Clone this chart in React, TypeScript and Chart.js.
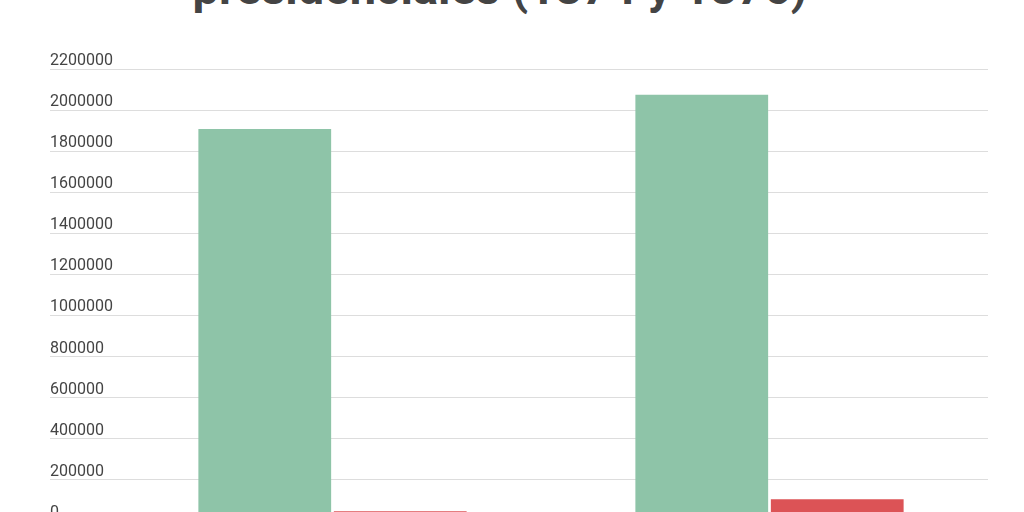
import React, { useEffect, useRef } from "react";
import { Chart, registerables } from "chart.js";

Chart.register(...registerables);

const titleText = "presidenciales (1874 y 1876)";
const categories = ["1874", "1876"];
const seriesNames = ["Serie A", "Serie B"];
const seriesA = [1908000, 2075000];
const seriesB = [46000, 105000];
const yMin = 0;
const yMax = 2200000;
const yStep = 200000;

const CANVAS_H = 575;

export default function App() {
  const ref = useRef<HTMLCanvasElement | null>(null);

  useEffect(() => {
    document.documentElement.style.overflow = "hidden";
    const ctx = ref.current;
    if (!ctx) return;
    const chart = new Chart(ctx, {
      type: "bar",
      data: {
        labels: categories,
        datasets: [
          {
            label: seriesNames[0],
            data: seriesA,
            backgroundColor: "#8ec4a8",
            categoryPercentage: 0.62,
            barPercentage: 0.98,
          },
          {
            label: seriesNames[1],
            data: seriesB,
            backgroundColor: "#dc5356",
            categoryPercentage: 0.62,
            barPercentage: 0.98,
          },
        ],
      },
      options: {
        responsive: false,
        animation: false,
        devicePixelRatio: 1,
        layout: { padding: { left: 50, right: 36, top: 69, bottom: 11 } },
        plugins: {
          legend: { display: false },
          tooltip: { enabled: false },
          title: { display: false },
        },
        scales: {
          x: {
            grid: { display: false },
            border: { display: false },
            ticks: { color: "#444444", font: { family: "Roboto", size: 16 }, padding: 8 },
          },
          y: {
            min: yMin,
            max: yMax,
            border: { display: false },
            afterFit: (axis: any) => {
              axis.width = 64;
            },
            grid: {
              color: "#dddddd",
              tickColor: "#dddddd",
              tickLength: 64,
              lineWidth: 1,
            },
            ticks: {
              stepSize: yStep,
              color: "#444444",
              crossAlign: "far",
              labelOffset: -8,
              padding: 0,
              font: { family: "Roboto", size: 16 },
              callback: (v: any) => String(v),
            },
          },
        },
      },
    });
    return () => chart.destroy();
  }, []);

  return (
    <div
      style={{
        position: "fixed",
        left: 0,
        top: 0,
        width: 1024,
        height: 512,
        overflow: "hidden",
        background: "#ffffff",
      }}
    >
      <div
        style={{
          position: "absolute",
          left: 0,
          top: -40,
          width: 1000,
          textAlign: "center",
          fontFamily: "Roboto",
          fontWeight: 700,
          fontSize: 47,
          lineHeight: "56px",
          color: "#444444",
          whiteSpace: "nowrap",
        }}
      >
        {titleText}
      </div>
      <div style={{ position: "absolute", left: 0, top: 0, width: 1024, height: CANVAS_H }}>
        <canvas
          ref={ref}
          width={1024}
          height={CANVAS_H}
          style={{ width: 1024, height: CANVAS_H, display: "block" }}
        />
      </div>
    </div>
  );
}
